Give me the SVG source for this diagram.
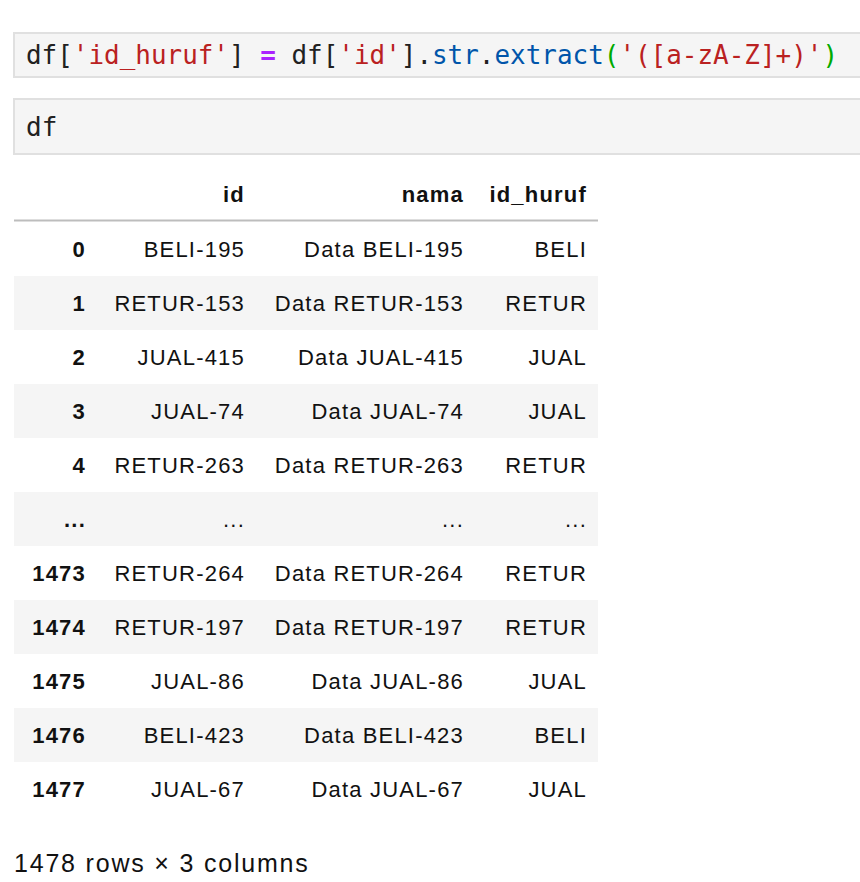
<svg xmlns="http://www.w3.org/2000/svg" width="860" height="882" viewBox="0 0 860 882">
<style>
.cell{fill:#f5f5f5;stroke:#e0e0e0;stroke-width:2}
.code{font-family:"DejaVu Sans Mono",monospace;font-size:26px;fill:#212121}
.s{fill:#ba2121}.o{fill:#aa22ff;font-weight:bold}.b{fill:#0055aa}.g{fill:#00aa00}
.t{font-family:"Liberation Sans",Arial,sans-serif;font-size:22px;fill:#111;text-anchor:end;letter-spacing:1.2px}
.h{font-weight:bold}
.stripe{fill:#f5f5f5}
</style>
<rect class="cell" x="14" y="33" width="860" height="44"/>
<text class="code" x="26" y="64" textLength="812" lengthAdjust="spacingAndGlyphs">df[<tspan class="s">'id_huruf'</tspan>] <tspan class="o">=</tspan> df[<tspan class="s">'id'</tspan>]<tspan>.</tspan><tspan class="b">str</tspan>.<tspan class="b">extract</tspan><tspan class="g">(</tspan><tspan class="s">'([a-zA-Z]+)'</tspan><tspan class="g">)</tspan></text>
<rect class="cell" x="14" y="99" width="860" height="55"/>
<text class="code" x="26" y="136">df</text>
<g id="table">
<rect class="stripe" x="14" y="276" width="584" height="54"/>
<rect class="stripe" x="14" y="384" width="584" height="54"/>
<rect class="stripe" x="14" y="492" width="584" height="54"/>
<rect class="stripe" x="14" y="600" width="584" height="54"/>
<rect class="stripe" x="14" y="708" width="584" height="54"/>
<line x1="14" y1="220.5" x2="598" y2="220.5" stroke="#bdbdbd" stroke-width="2"/>
<g class="t h"><text x="245" y="202">id</text><text x="464" y="202">nama</text><text x="587" y="202">id_huruf</text></g>
<g class="t">
<text class="h" x="86" y="257">0</text><text x="245" y="257">BELI-195</text><text x="464" y="257">Data BELI-195</text><text x="587" y="257">BELI</text>
<text class="h" x="86" y="311">1</text><text x="245" y="311">RETUR-153</text><text x="464" y="311">Data RETUR-153</text><text x="587" y="311">RETUR</text>
<text class="h" x="86" y="365">2</text><text x="245" y="365">JUAL-415</text><text x="464" y="365">Data JUAL-415</text><text x="587" y="365">JUAL</text>
<text class="h" x="86" y="419">3</text><text x="245" y="419">JUAL-74</text><text x="464" y="419">Data JUAL-74</text><text x="587" y="419">JUAL</text>
<text class="h" x="86" y="473">4</text><text x="245" y="473">RETUR-263</text><text x="464" y="473">Data RETUR-263</text><text x="587" y="473">RETUR</text>
<text class="h" x="86" y="527">...</text><text x="245" y="527">...</text><text x="464" y="527">...</text><text x="587" y="527">...</text>
<text class="h" x="86" y="581">1473</text><text x="245" y="581">RETUR-264</text><text x="464" y="581">Data RETUR-264</text><text x="587" y="581">RETUR</text>
<text class="h" x="86" y="635">1474</text><text x="245" y="635">RETUR-197</text><text x="464" y="635">Data RETUR-197</text><text x="587" y="635">RETUR</text>
<text class="h" x="86" y="689">1475</text><text x="245" y="689">JUAL-86</text><text x="464" y="689">Data JUAL-86</text><text x="587" y="689">JUAL</text>
<text class="h" x="86" y="743">1476</text><text x="245" y="743">BELI-423</text><text x="464" y="743">Data BELI-423</text><text x="587" y="743">BELI</text>
<text class="h" x="86" y="797">1477</text><text x="245" y="797">JUAL-67</text><text x="464" y="797">Data JUAL-67</text><text x="587" y="797">JUAL</text>
</g>
</g>
<text x="14" y="872" style="font-family:'Liberation Sans',Arial,sans-serif;font-size:25px;letter-spacing:1.8px;fill:#111">1478 rows × 3 columns</text>
</svg>
